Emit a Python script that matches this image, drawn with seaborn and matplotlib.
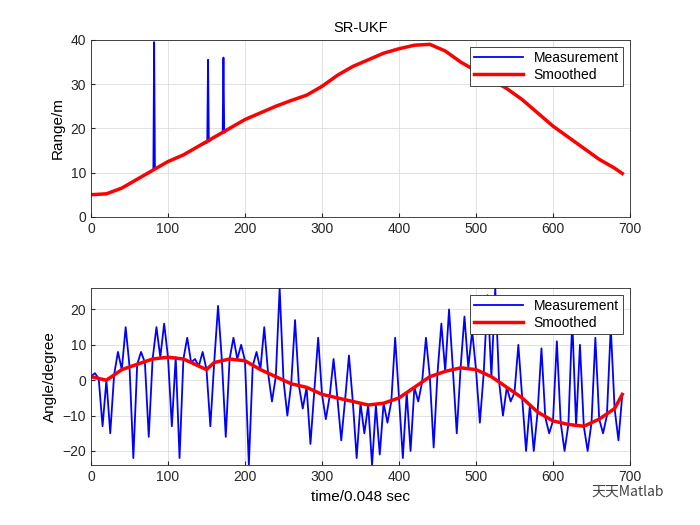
import matplotlib
matplotlib.use("Agg")
import matplotlib.pyplot as plt
from matplotlib import font_manager
import seaborn as sns
import pandas as pd

plt.rcParams["font.family"] = "Liberation Sans"
plt.rcParams["font.size"] = 10

range_t = [0,20,40,60,80,100,120,140,160,180,200,220,240,260,280,300,320,340,360,380,400,420,440,460,480,500,520,540,560,580,600,620,640,660,680,690]
range_s = [5,5.2,6.5,8.5,10.5,12.5,14,16,18,20,22,23.5,25,26.3,27.5,29.5,32,34,35.5,37,38,38.8,39,37.5,35,33,31,29,26.5,23.5,20.5,18,15.5,13,11,9.8]
spike_t = [81,82,83,151,152,153,171,172,173]
spike_v = [10.8,39.5,10.8,16.8,35.5,17,19,36,19]

ang_t = [0,20,40,60,80,100,120,140,150,160,180,200,220,240,260,280,300,320,340,360,380,400,420,440,460,480,500,520,540,560,580,600,620,640,660,680,690]
ang_s = [1,0,3,4.5,6,6.5,6,4,3,5,6,5.5,3,1,-1,-2,-4,-5,-6,-7,-6.5,-5,-2,1,2.5,3.5,3,1,-2,-5,-9,-11.5,-12.5,-13,-11,-8,-4]
ang_base = [1,0.5,0,1.5,3,4,4.5,5,6,6.5,6.5,6.5,6,5,4,3,5,5.5,6,6,5.5,4,3,2,1,0,-1,-1.5,-2,-3,
            -4,-4.5,-5,-5.5,-6,-6.5,-7,-7,-6.5,-6,-5,-3.5,-2,-0.5,1,2,2.5,3,3.5,3.5,
            3,2,1,-0.5,-2,-3.5,-5,-7,-9,-10.5,-11.5,-12,-12.5,-13,-13,-12,-11,-10,-8,-4]
ang_spk = [2,-13,-15,8,15,-22,8,-16,15,16,-13,-22,12,6,8,-13,21,-16,12,10,-24,8,15,-6,26,-10,17,-8,-18,12,
           -11,6,-17,7,-22,-15,-24,-21,-12,12,-22,-20,-6,12,-19,16,20,-15,18,14,-12,24,26,-10,-6,10,-20,-20,9,-15,
           11,-20,17,10,-20,12,-15,15,-17]

sd = dict(zip(range_t, range_s)); sd.update(dict(zip(spike_t, spike_v)))
mt = sorted(sd)
df_rm = pd.DataFrame({"t": mt, "v": [sd[t] for t in mt]})
df_rs = pd.DataFrame({"t": range_t, "v": range_s})
ad = dict(zip(range(0, 700, 10), ang_base)); ad.update(dict(zip(range(5, 700, 10), ang_spk)))
at = sorted(ad)
df_am = pd.DataFrame({"t": at, "v": [ad[t] for t in at]})
df_as = pd.DataFrame({"t": ang_t, "v": ang_s})

fig = plt.figure(figsize=(7, 5.25), dpi=100)
ax1 = fig.add_axes([0.13, 0.587, 0.77, 0.337])
ax2 = fig.add_axes([0.13, 0.114, 0.77, 0.337])

for ax, dm, ds, yl, ylim, yt in [
    (ax1, df_rm, df_rs, "Range/m", (0, 40), [0,10,20,30,40]),
    (ax2, df_am, df_as, "Angle/degree", (-24, 26), [-20,-10,0,10,20])]:
    sns.lineplot(data=dm, x="t", y="v", ax=ax, color="blue", lw=1.3, label="Measurement", estimator=None, sort=False)
    sns.lineplot(data=ds, x="t", y="v", ax=ax, color="red", lw=2.5, label="Smoothed", estimator=None, sort=False)
    ax.set_xlim(0, 700); ax.set_ylim(*ylim)
    ax.set_xticks(range(0, 701, 100)); ax.set_yticks(yt)
    ax.grid(True, color="#dddddd", lw=0.6)
    ax.set_ylabel(yl, fontsize=11); ax.set_xlabel("")
    ax.tick_params(direction="in", length=3, colors="#262626")
    for s in ax.spines.values(): s.set_color("#262626"); s.set_linewidth(0.6)
    leg = ax.legend(loc="upper right", fancybox=False, framealpha=1, edgecolor="#262626",
                    borderpad=0.3, labelspacing=0.2, handlelength=3.5)
    leg.get_frame().set_linewidth(0.6)

ax1.set_title("SR-UKF", fontsize=10.5)
ax2.set_xlabel("time/0.048 sec", fontsize=11)
cjk = [f.name for f in font_manager.fontManager.ttflist if "CJK" in f.name]
fam = cjk[0] if cjk else "DejaVu Sans"
fig.text(0.845, 0.055, "天天Matlab", fontsize=10, fontfamily=fam, color="#444444")
fig.savefig("out.png", dpi=100)
